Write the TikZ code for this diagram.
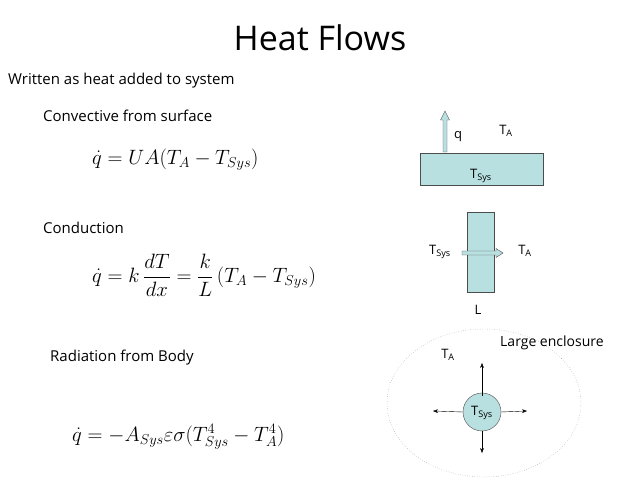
\documentclass[tikz,border=0pt]{standalone}
\usepackage{fontspec}
\setmainfont{Open Sans}
\usetikzlibrary{arrows.meta}
\definecolor{fillc}{HTML}{B9E0E0}
\begin{document}
\begin{tikzpicture}[x=1pt,y=-1pt,
  lbl/.style={font=\fontsize{15}{18}\selectfont,anchor=west,inner sep=0},
  sm/.style={font=\fontsize{13}{15}\selectfont,inner sep=0},
  eq/.style={font=\fontsize{22}{26}\selectfont,anchor=west,inner sep=0},
  body/.style={draw=black!70,fill=fillc},
  spoke/.style={-{Stealth[length=5pt]},line width=0.4pt}]
\useasboundingbox (0,0) rectangle (638,478);
\node[font=\fontsize{34}{40}\selectfont] (title) at (320,38) {Heat Flows};
\node[lbl] (w) at (8,81) {Written as heat added to system};
\node[lbl] (c1) at (43,116) {Convective from surface};
\node[lbl] (c2) at (43,228) {Conduction};
\node[lbl] (c3) at (50,358) {Radiation from Body};
\node[eq] (e1) at (92,160) {$\dot q = UA(T_A - T_{Sys})$};
\node[eq] (e2) at (92,275) {$\displaystyle\dot q = k\,\frac{dT}{dx} = \frac{k}{L}\,(T_A - T_{Sys})$};
\node[eq] (e3) at (72,437) {$\dot q = -A_{Sys}\varepsilon\sigma(T_{Sys}^4 - T_A^4)$};
% convective
\node[body,minimum width=123,minimum height=32,inner sep=0] (b1) at (481.5,169) {};
\node[sm] (ts1) at (481,176) {T\textsubscript{Sys}};
\draw[fill=fillc,draw=black!70] (443,152) -- (443,120) -- (440.5,120) -- (445,111) -- (449.5,120) -- (447,120) -- (447,152) -- cycle;
\node[sm] (q) at (458,137) {q};
\node[sm] (ta1) at (506,131) {T\textsubscript{A}};
% conduction
\node[body,minimum width=27,minimum height=80,inner sep=0] (b2) at (480.5,252) {};
\draw[fill=fillc,draw=black!70] (462,251) -- (496,251) -- (496,248.5) -- (503,253) -- (496,257.5) -- (496,255) -- (462,255) -- cycle;
\node[sm] (ts2) at (440,252) {T\textsubscript{Sys}};
\node[sm] (ta2) at (525,251) {T\textsubscript{A}};
\node[sm] (L) at (478,310) {L};
% radiation
\draw[dotted,gray] (484,403) ellipse [x radius=97, y radius=74];
\node[body,circle,minimum size=38,inner sep=0] (s) at (482,412) {};
\node[sm] (ts3) at (482,413) {T\textsubscript{Sys}};
\coordinate (up) at (482,363);
\coordinate (lf) at (433,411);
\coordinate (rt) at (527,411);
\coordinate (dn) at (482,453);
\draw[spoke] ([yshift=-3pt]s.north) -- (up);
\draw[spoke] (s.west) -- (lf);
\draw[spoke] (s.east) -- (rt);
\draw[spoke] (s.south) -- (dn);
\node[sm] (ta3) at (448,355) {T\textsubscript{A}};
\node[lbl,font=\fontsize{14}{16}\selectfont] (le) at (500,343) {Large enclosure};
\end{tikzpicture}
\end{document}
